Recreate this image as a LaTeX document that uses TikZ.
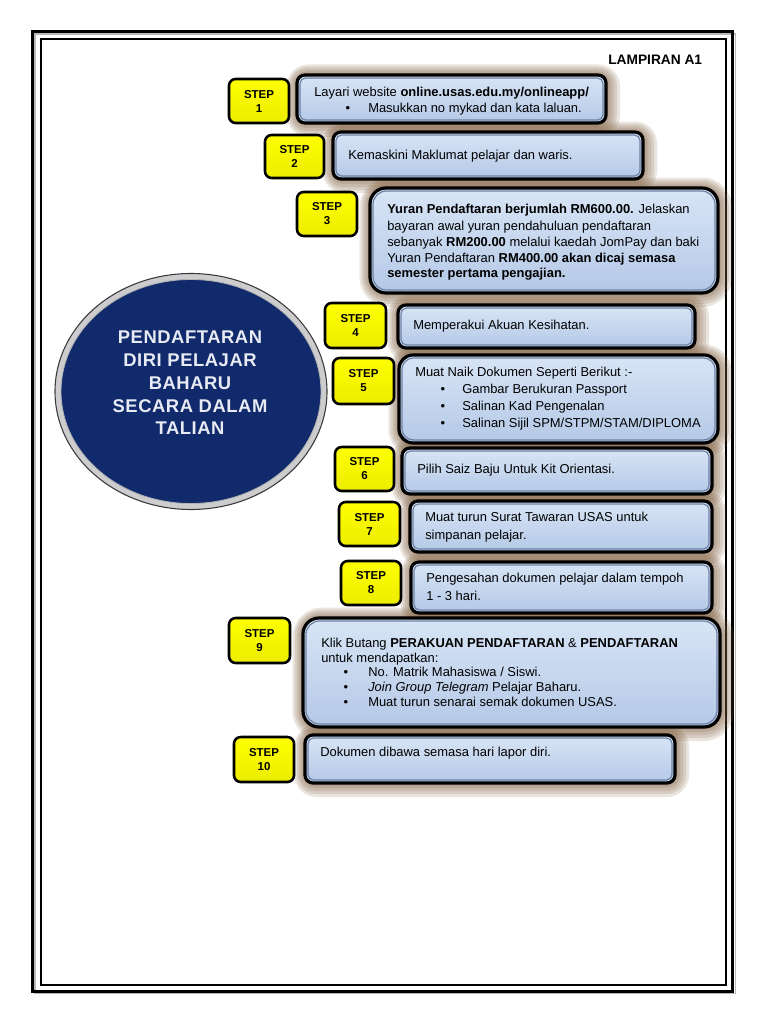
\documentclass[tikz,border=0pt]{standalone}
\usepackage{fontspec}
\setmainfont{Liberation Sans}
\usetikzlibrary{shapes.geometric}
\definecolor{navyc}{RGB}{16,42,108}
\definecolor{boxtop}{RGB}{216,229,246}
\definecolor{boxbot}{RGB}{180,200,230}
\definecolor{glowc}{RGB}{128,96,62}
\definecolor{rimc}{RGB}{205,205,208}
\definecolor{yelbot}{RGB}{236,236,0}
\definecolor{elltext}{RGB}{232,235,244}
\definecolor{bevel}{RGB}{110,130,165}
\tikzset{
  stepbox/.style={draw=black, line width=1.9pt, top color=yellow, bottom color=yelbot, rounded corners=5pt, align=center, font=\fontsize{8.6}{10.5}\selectfont\bfseries, inner sep=0pt, outer sep=0pt, anchor=north west},
  bluebox/.style={draw=black, line width=2.4pt, top color=boxtop, bottom color=boxbot, inner sep=0pt, outer sep=0pt, anchor=north west},
  txt/.style={anchor=base west, inner sep=0pt, font=\fontsize{9.7}{11.6}\selectfont},
  bul/.style={anchor=base, inner sep=0pt, font=\fontsize{9.7}{11.6}\selectfont},
}
\newcommand{\glowit}[5]{%
  \foreach \g in {14,11,8,5,2.5}{%
    \fill[glowc, opacity=0.17, rounded corners={(#5+\g)*0.75pt}] ({#1-\g*0.75},{#2-\g*0.75}) rectangle ({#3+\g},{#4+\g});
  }}
\newcommand{\stepnode}[6]{%
  \node[stepbox, minimum width={(#4-#2)*0.75pt}, minimum height={(#5-#3)*0.75pt}] (#1) at (#2,#3) {STEP\\#6};}
\newcommand{\bluenode}[6]{%
  \node[bluebox, rounded corners={#6*0.75pt}, minimum width={(#4-#2)*0.75pt}, minimum height={(#5-#3)*0.75pt}] (#1) at (#2,#3) {};
  \draw[bevel, line width=0.9pt, rounded corners={(#6-2.5)*0.75pt}] ({#2+3},{#3+3}) rectangle ({#4-3},{#5-3});}
\begin{document}
\begin{tikzpicture}[x=0.75pt,y=-0.75pt]
\fill[white] (0,0) rectangle (768,1024);
\useasboundingbox (0,0) rectangle (768,1024);
% frame
\draw[gray!55, line width=1.2pt] (35,34) rectangle (735.5,993.5);
\draw[black, line width=2.3pt] (32.5,31.5) rectangle (732.5,991.5);
\draw[black, line width=1.5pt] (41,39) rectangle (726,984.5);
% title
\node[anchor=base west, inner sep=0pt, font=\fontsize{10.3}{12}\selectfont\bfseries] (lamp) at (608,64.5) {LAMPIRAN A1};
% ellipse
\node[ellipse, minimum width=204pt, minimum height=177pt, inner sep=0pt, fill=rimc, draw=gray!45!black, line width=0.8pt] (rim) at (191,391.5) {};
\node[ellipse, minimum width={260*0.75pt}, minimum height={224*0.75pt}, inner sep=0pt, fill=navyc, draw=gray!60, line width=0.6pt] (ell) at (191,391.5) {};
\node[align=center, inner sep=0pt, text=elltext, font=\fontsize{13.8}{17.1}\selectfont\bfseries\addfontfeature{LetterSpace=3}] (etext) at (190,383) {PENDAFTARAN\\DIRI PELAJAR\\BAHARU\\SECARA DALAM\\TALIAN};
% glows
\glowit{297}{75}{606}{123}{8}
\glowit{333}{132}{643}{179}{8}
\glowit{370}{188}{718}{293}{16}
\glowit{398}{305}{695}{348}{8}
\glowit{399}{355}{718}{443}{14}
\glowit{402}{448}{712}{494}{8}
\glowit{410}{501}{712}{552}{8}
\glowit{411}{562}{712}{613}{8}
\glowit{303}{618}{720}{727}{16}
\glowit{305}{735}{675}{783}{8}
% blue boxes
\bluenode{b1}{297}{75}{606}{123}{8}
\bluenode{b2}{333}{132}{643}{179}{8}
\bluenode{b3}{370}{188}{718}{293}{16}
\bluenode{b4}{398}{305}{695}{348}{8}
\bluenode{b5}{399}{355}{718}{443}{14}
\bluenode{b6}{402}{448}{712}{494}{8}
\bluenode{b7}{410}{501}{712}{552}{8}
\bluenode{b8}{411}{562}{712}{613}{8}
\bluenode{b9}{303}{618}{720}{727}{16}
\bluenode{b10}{305}{735}{675}{783}{8}
% step boxes
\stepnode{s1}{229}{79}{289}{123}{1}
\stepnode{s2}{265}{135}{324}{178}{2}
\stepnode{s3}{297}{192}{357}{236}{3}
\stepnode{s4}{325}{303}{386}{348}{4}
\stepnode{s5}{333}{358}{394}{404}{5}
\stepnode{s6}{335}{447}{394}{491}{6}
\stepnode{s7}{339}{502}{400}{546}{7}
\stepnode{s8}{341}{561}{401}{605}{8}
\stepnode{s9}{229}{618}{290}{663}{9}
\stepnode{s10}{234}{737}{294}{782}{10}
% texts
\node[txt] (t1a) at (314,96) {Layari website \textbf{online.usas.edu.my/onlineapp/}};
\node[bul] (d1a) at (348,113) {•};
\node[txt] (t1b) at (368,113) {Masukkan no mykad dan kata laluan.};
\node[txt] (t2) at (348,159) {Kemaskini Maklumat pelajar dan waris.};
\node[txt] (t3a) at (387,213) {\textbf{Yuran Pendaftaran berjumlah RM600.00.} Jelaskan};
\node[txt] (t3b) at (387,230) {bayaran awal yuran pendahuluan pendaftaran};
\node[txt] (t3c) at (387,246) {sebanyak \textbf{RM200.00} melalui kaedah JomPay dan baki};
\node[txt] (t3d) at (387,262) {Yuran Pendaftaran \textbf{RM400.00 akan dicaj semasa}};
\node[txt] (t3e) at (387,277) {\textbf{semester pertama pengajian.}};
\node[txt] (t4) at (413,329) {Memperakui Akuan Kesihatan.};
\node[txt] (t5a) at (415,376) {Muat Naik Dokumen Seperti Berikut :-};
\node[bul] (d5a) at (443,393) {•};
\node[txt] (t5b) at (462,393) {Gambar Berukuran Passport};
\node[bul] (d5b) at (443,410) {•};
\node[txt] (t5c) at (462,410) {Salinan Kad Pengenalan};
\node[bul] (d5c) at (443,427) {•};
\node[txt] (t5d) at (462,427) {Salinan Sijil SPM/STPM/STAM/DIPLOMA};
\node[txt] (t6) at (417,473) {Pilih Saiz Baju Untuk Kit Orientasi.};
\node[txt] (t7a) at (425,521) {Muat turun Surat Tawaran USAS untuk};
\node[txt] (t7b) at (425,539) {simpanan pelajar.};
\node[txt] (t8a) at (426,582) {Pengesahan dokumen pelajar dalam tempoh};
\node[txt] (t8b) at (426,600) {1 - 3 hari.};
\node[txt] (t9a) at (321,647) {Klik Butang \textbf{PERAKUAN PENDAFTARAN} \& \textbf{PENDAFTARAN}};
\node[txt] (t9b) at (321,662) {untuk mendapatkan:};
\node[bul] (d9a) at (346,676) {•};
\node[txt] (t9c) at (368,676) {No. Matrik Mahasiswa / Siswi.};
\node[bul] (d9b) at (346,691) {•};
\node[txt] (t9d) at (368,691) {\textit{Join Group Telegram} Pelajar Baharu.};
\node[bul] (d9c) at (346,706) {•};
\node[txt] (t9e) at (368,706) {Muat turun senarai semak dokumen USAS.};
\node[txt] (t10) at (320,756) {Dokumen dibawa semasa hari lapor diri.};
\end{tikzpicture}
\end{document}
